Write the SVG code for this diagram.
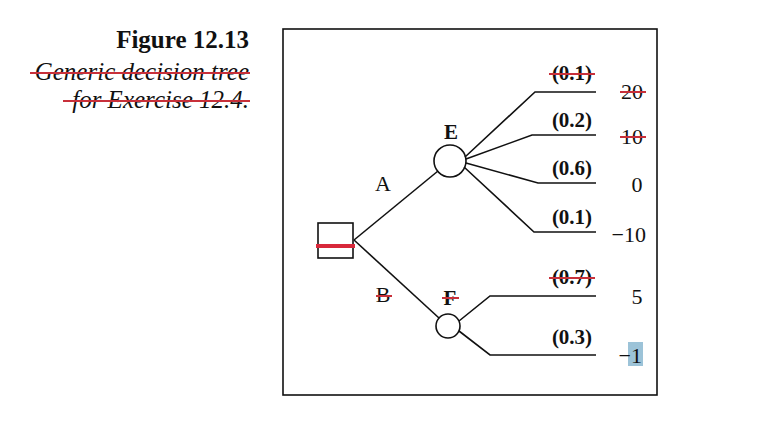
<svg xmlns="http://www.w3.org/2000/svg" width="761" height="432" viewBox="0 0 761 432">
<style>
text{font-family:"Liberation Serif","DejaVu Serif",serif;fill:#111}
.b{font-weight:bold;font-size:21px;text-anchor:middle}
.v{font-size:22px;text-anchor:middle}
.ln{fill:none;stroke:#111;stroke-width:1.6}
.st{stroke:#c8303a;stroke-width:2}
</style>
<rect width="761" height="432" fill="#fff"/>
<g id="caption">
<text x="249" y="48" font-size="25" font-weight="bold" text-anchor="end">Figure 12.13</text>
<text x="249" y="80" font-size="25" font-style="italic" text-anchor="end">Generic decision tree</text>
<text x="249" y="108" font-size="25" font-style="italic" text-anchor="end">for Exercise 12.4.</text>
<line class="st" x1="30" y1="73" x2="250" y2="73"/>
<line class="st" x1="63" y1="101" x2="250" y2="101"/>
</g>
<rect id="frame" x="283" y="29" width="374" height="366" class="ln"/>
<g id="connectors" class="ln">
<path d="M354 240 L438 171"/>
<path d="M354 240 L439 318"/>
<path d="M465 157 L535 92 H596"/>
<path d="M466 159 L532 135 H596"/>
<path d="M466 163 L538 183 H596"/>
<path d="M464 167 L534 232 H596"/>
<path d="M459 321 L490 296 H596"/>
<path d="M459 331 L490 355 H596"/>
</g>
<g id="decision"><rect x="318" y="223" width="35" height="35" class="ln"/><line x1="316" y1="246" x2="355" y2="246" stroke="#d8283a" stroke-width="4"/></g>
<g id="E"><circle cx="450" cy="161" r="16" class="ln" fill="#fff"/><text class="b" x="451" y="139">E</text></g>
<g id="F"><circle cx="448" cy="326" r="12" class="ln" fill="#fff"/><text class="b" x="450" y="305">F</text><line class="st" x1="442" y1="298" x2="459" y2="298" stroke-width="1.5"/></g>
<g id="labels">
<text class="v" x="383" y="191">A</text>
<text class="v" x="383" y="302">B</text><line class="st" x1="376" y1="296" x2="392" y2="296" stroke-width="1.5"/>
<text class="b" x="572" y="80">(0.1)</text><line class="st" x1="549" y1="74" x2="595" y2="74" stroke-width="1.5"/>
<text class="b" x="572" y="127">(0.2)</text>
<text class="b" x="572" y="175">(0.6)</text>
<text class="b" x="572" y="224">(0.1)</text>
<text class="b" x="572" y="284">(0.7)</text><line class="st" x1="549" y1="278" x2="595" y2="278" stroke-width="1.5"/>
<text class="b" x="572" y="344">(0.3)</text>
<text class="v" x="632" y="99">20</text><line class="st" x1="620" y1="92" x2="646" y2="92" stroke-width="1.5"/>
<text class="v" x="632" y="144">10</text><line class="st" x1="620" y1="137" x2="646" y2="137" stroke-width="1.5"/>
<text class="v" x="637" y="192">0</text>
<text x="646" y="242" font-size="22" text-anchor="end">−10</text>
<text class="v" x="637" y="304">5</text>
<rect x="628" y="342" width="15" height="24" fill="#9cc3d8"/>
<text x="642" y="363" font-size="22" text-anchor="end">−1</text>
</g>
</svg>
